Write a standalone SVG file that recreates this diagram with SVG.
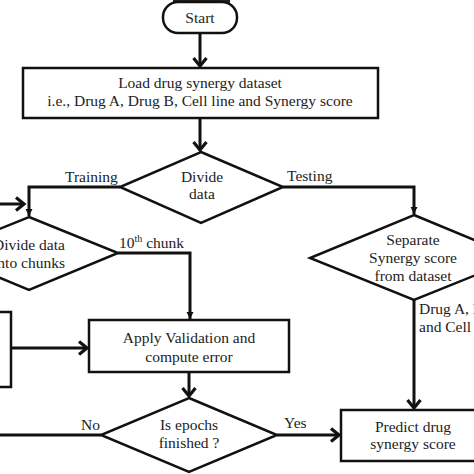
<svg xmlns="http://www.w3.org/2000/svg" width="474" height="474" viewBox="0 0 474 474">
<style>
.n{fill:#fff;stroke:#111;stroke-width:2.5}
.c{fill:none;stroke:#111;stroke-width:3}
text{font-family:'Liberation Serif','Times New Roman','DejaVu Serif',serif;font-size:15.5px;fill:#222}
.t{text-anchor:middle}
</style>
<defs>
<marker id="chev" markerUnits="userSpaceOnUse" viewBox="-12 -9 15 18" markerWidth="15" markerHeight="18" refX="0" refY="0" orient="auto">
<path d="M-8,-6.5 L0,0 L-8,6.5" fill="none" stroke="#111" stroke-width="3.2" stroke-linejoin="miter"/>
</marker>
<marker id="tri" markerUnits="userSpaceOnUse" viewBox="-8 -4 9 8" markerWidth="9" markerHeight="8" refX="0" refY="0" orient="auto">
<path d="M-7,-3.5 L0,0 L-7,3.5 Z" fill="#111"/>
</marker>
</defs>
<rect x="173" y="0" width="57" height="3" fill="#222"/>
<g id="connectors" font-family="Liberation Serif, serif">
<path class="c" d="M200,33 V66" marker-end="url(#chev)"/>
<path class="c" d="M200,118 V150" marker-end="url(#chev)"/>
<path class="c" d="M120,187 H29 V216" marker-end="url(#tri)"/>
<path class="c" d="M0,204 H24" marker-end="url(#chev)"/>
<path class="c" d="M283,187 H414 V214" marker-end="url(#tri)"/>
<path class="c" d="M118,253 H190 V319" marker-end="url(#tri)"/>
<path class="c" d="M11,348 H87" marker-end="url(#chev)"/>
<path class="c" d="M189,372 V396" marker-end="url(#chev)"/>
<path class="c" d="M101,435 H0"/>
<path class="c" d="M277,435 H339" marker-end="url(#chev)"/>
<path class="c" d="M414,300 V408" marker-end="url(#chev)"/>
<text x="65" y="182">Training</text>
<text x="287" y="181">Testing</text>
<text x="119" y="248">10<tspan font-size="10" dy="-6">th</tspan><tspan dy="6"> chunk</tspan></text>
<text x="81" y="430">No</text>
<text x="284" y="428">Yes</text>
<text x="419" y="314">Drug A, Drug B,</text>
<text x="419" y="332">and Cell line</text>
</g>
<g id="start">
<rect class="n" x="163" y="2" width="74" height="31" rx="15" ry="15"/>
<text class="t" x="200" y="23">Start</text>
</g>
<g id="load">
<rect class="n" x="23" y="68" width="355" height="50"/>
<text class="t" x="200" y="88">Load drug synergy dataset</text>
<text class="t" x="200" y="106">i.e., Drug A, Drug B, Cell line and Synergy score</text>
</g>
<g id="divide">
<polygon class="n" points="201,152 283,187 201,223 120,187"/>
<text class="t" x="202" y="182">Divide</text>
<text class="t" x="202" y="199">data</text>
</g>
<g id="chunks">
<polygon class="n" points="29,217 118,253 29,290 -60,253"/>
<text class="t" x="29" y="250">Divide data</text>
<text class="t" x="29" y="268">into chunks</text>
</g>
<g id="leftbox">
<rect class="n" x="-60" y="312" width="71" height="75"/>
</g>
<g id="separate">
<polygon class="n" points="414,215 518,258 414,300 310,258"/>
<text class="t" x="413" y="245">Separate</text>
<text class="t" x="413" y="263">Synergy score</text>
<text class="t" x="413" y="281">from dataset</text>
</g>
<g id="apply">
<rect class="n" x="89" y="320" width="200" height="52"/>
<text class="t" x="189" y="343">Apply Validation and</text>
<text class="t" x="189" y="362">compute error</text>
</g>
<g id="epochs">
<polygon class="n" points="189,398 277,435 189,472 101,435"/>
<text class="t" x="189" y="430">Is epochs</text>
<text class="t" x="189" y="448">finished ?</text>
</g>
<g id="predict">
<rect class="n" x="341" y="410" width="144" height="51"/>
<text class="t" x="413" y="432">Predict drug</text>
<text class="t" x="413" y="449">synergy score</text>
</g>
</svg>
